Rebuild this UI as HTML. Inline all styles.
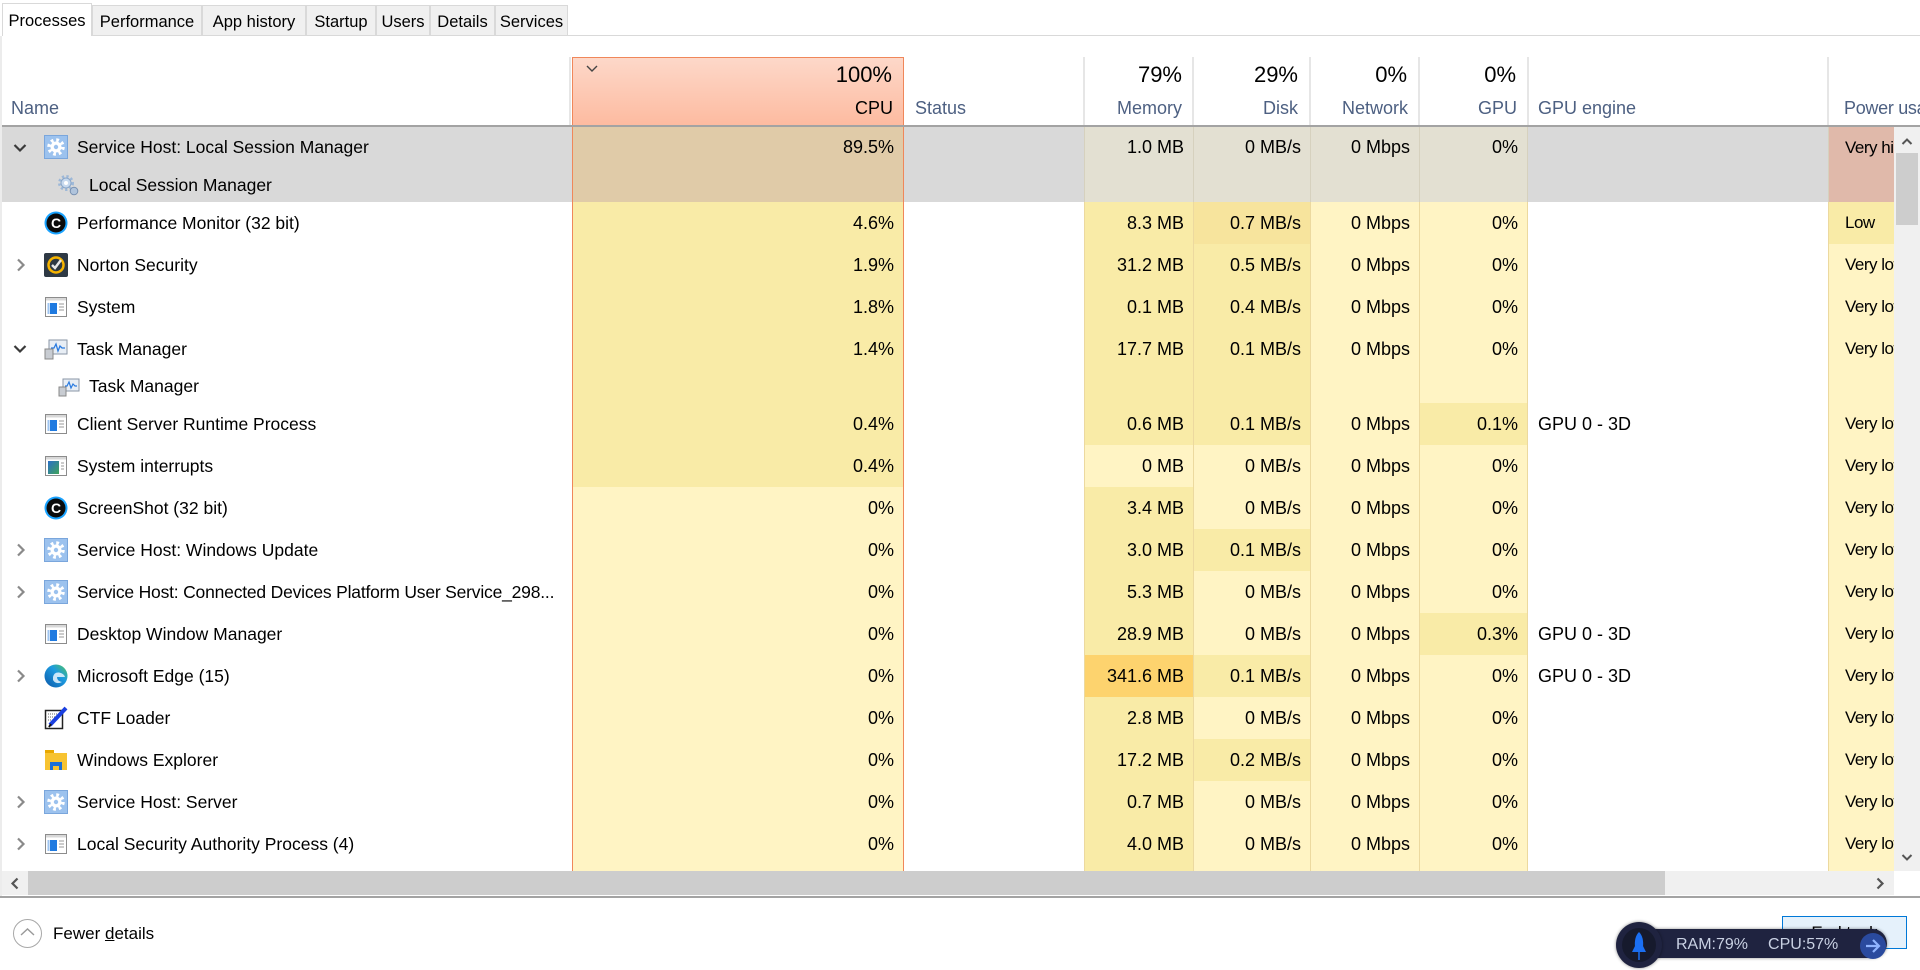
<!DOCTYPE html>
<html><head><meta charset="utf-8"><style>
*{box-sizing:border-box;margin:0;padding:0}
body{width:1920px;height:970px;overflow:hidden;background:#fff;font-family:"Liberation Sans",Arial,sans-serif;color:#000;position:relative}
.a{position:absolute}
.tab{position:absolute;top:5px;height:30px;background:#f0f0f0;border:1px solid #d9d9d9;border-bottom:none;font-size:16.5px;line-height:32px;text-align:center;color:#000}
.hl{position:absolute;font-size:18px;color:#4d6082;line-height:24px;top:96px;white-space:nowrap}
.hp{position:absolute;font-size:22px;color:#000;line-height:28px;top:61px;text-align:right}
.hs{position:absolute;top:57px;height:68px;width:2px;background:#e6e6e6}
.row{position:absolute;left:2px;width:1892px}
.c{position:absolute;top:0;height:100%;text-align:right;padding-right:9px;font-size:18px;white-space:nowrap;overflow:hidden}
.nm{left:0;width:570px;text-align:left;padding:0;font-size:17.5px;overflow:visible}
.nm .t{position:absolute;left:75px;white-space:nowrap}
.nm .tc{position:absolute;left:87px;white-space:nowrap}
.nm svg{position:absolute}
.cpu{left:570px;width:332px;border-left:1px solid #f0875a;border-right:1px solid #f0875a}
.mem{left:1082px;width:109px;border-left:1px solid #ecd99f}
.dsk{left:1191px;width:117px;border-left:1px solid #ecd99f}
.net{left:1308px;width:109px;border-left:1px solid #ecd99f}
.gpu{left:1417px;width:109px;border-left:1px solid #ecd99f;border-right:1px solid #ecd99f}
.eng{left:1526px;width:300px;text-align:left;padding-left:10px}
.pow{left:1826px;width:66px;border-left:1px solid #ecd99f;text-align:left;padding-left:16px;padding-right:0;font-size:17px;letter-spacing:-0.5px}
.L{background:#fff4c4}.M{background:#f9eba7}.M2{background:#f7e49d}.D{background:#fdd36e}
.sel{background:#d9d9d9}
.S1{background:#e0cba8}.S2{background:#e3e0d2}.S3{background:#e0b9aa}
.sel .mem,.sel .dsk,.sel .net,.sel .gpu,.sel .pow{border-color:#d6d1be}
</style></head><body>

<!-- tabs -->
<div class="a" style="left:92px;top:35px;width:1828px;height:1px;background:#d9d9d9"></div>
<div class="a" style="left:2px;top:3px;width:90px;height:33px;background:#fff;border:1px solid #d9d9d9;border-bottom:none;font-size:16.5px;line-height:34px;text-align:center">Processes</div>
<div class="tab" style="left:92px;width:110px">Performance</div>
<div class="tab" style="left:202px;width:104px">App history</div>
<div class="tab" style="left:306px;width:70px">Startup</div>
<div class="tab" style="left:376px;width:54px">Users</div>
<div class="tab" style="left:430px;width:65px">Details</div>
<div class="tab" style="left:495px;width:73px">Services</div>

<!-- header -->
<div class="hs" style="left:569px"></div>
<div class="a" style="left:572px;top:57px;width:332px;height:70px;background:linear-gradient(#fdd8c9,#fdba9f);border:1px solid #f0875a;border-bottom:none"></div>
<svg class="a" style="left:585px;top:64px" width="14" height="10"><polyline points="2,2 7,7 12,2" fill="none" stroke="#444" stroke-width="1.4"/></svg>
<div class="hp" style="left:700px;width:192px">100%</div>
<div class="hl" style="left:700px;width:193px;text-align:right;color:#000">CPU</div>
<div class="hl" style="left:915px">Status</div>
<div class="hs" style="left:1083px"></div>
<div class="hp" style="left:1090px;width:92px">79%</div>
<div class="hl" style="left:1090px;width:92px;text-align:right">Memory</div>
<div class="hs" style="left:1192px"></div>
<div class="hp" style="left:1200px;width:98px">29%</div>
<div class="hl" style="left:1200px;width:98px;text-align:right">Disk</div>
<div class="hs" style="left:1309px"></div>
<div class="hp" style="left:1315px;width:92px">0%</div>
<div class="hl" style="left:1315px;width:93px;text-align:right">Network</div>
<div class="hs" style="left:1418px"></div>
<div class="hp" style="left:1425px;width:91px">0%</div>
<div class="hl" style="left:1425px;width:92px;text-align:right">GPU</div>
<div class="hs" style="left:1527px"></div>
<div class="hl" style="left:1538px">GPU engine</div>
<div class="hs" style="left:1827px"></div>
<div class="hl" style="left:1844px;letter-spacing:-0.3px">Power usage</div>
<div class="hl" style="left:11px">Name</div>
<div class="a" style="left:0;top:125px;width:1920px;height:2px;background:#a3a3a3"></div>

<!-- rows -->
<div class="row sel" style="top:127px;height:41px;line-height:41px">
 <div class="c nm"><svg style="left:11px;top:16px" width="14" height="10"><polyline points="1.5,2 7,7.5 12.5,2" fill="none" stroke="#3a3a3a" stroke-width="2.2"/></svg><svg style="left:42px;top:8px" width="24" height="24"><rect x="0.5" y="0.5" width="23" height="23" fill="#9cc2ee" stroke="#7aa6dc"/><circle cx="12" cy="12" r="7" fill="none" stroke="#fff" stroke-width="3.5" stroke-dasharray="2.7 2.8"/><circle cx="12" cy="12" r="5.5" fill="#fff"/><circle cx="12" cy="12" r="2.2" fill="#9cc2ee"/></svg><span class="t">Service Host: Local Session Manager</span></div>
 <div class="c cpu S1">89.5%</div><div class="c mem S2">1.0 MB</div><div class="c dsk S2">0 MB/s</div><div class="c net S2">0 Mbps</div><div class="c gpu S2">0%</div><div class="c pow S3">Very high</div>
</div>
<div class="row sel" style="top:168px;height:34px;line-height:34px">
 <div class="c nm"><svg style="left:55px;top:6px" width="22" height="22"><circle cx="9" cy="9" r="6.5" fill="none" stroke="#9db8d8" stroke-width="3" stroke-dasharray="2.2 2.2"/><circle cx="9" cy="9" r="5" fill="#c7d9ee" stroke="#8aa6c8"/><circle cx="9" cy="9" r="2" fill="#fff"/><circle cx="17" cy="17" r="3.8" fill="#b0c4dc" stroke="#7890b0"/></svg><span class="tc">Local Session Manager</span></div>
 <div class="c cpu S1"></div><div class="c mem S2"></div><div class="c dsk S2"></div><div class="c net S2"></div><div class="c gpu S2"></div><div class="c pow S3"></div>
</div>

<div class="row" style="top:202px;height:42px;line-height:42px">
 <div class="c nm"><svg style="left:42px;top:9px" width="24" height="24"><circle cx="12" cy="12" r="11.5" fill="#1aa3ff"/><circle cx="12" cy="12" r="9.5" fill="#0b0b0b"/><text x="12" y="17" font-size="14" font-weight="bold" fill="#fff" text-anchor="middle" font-family="Liberation Sans">C</text></svg><span class="t">Performance Monitor (32 bit)</span></div>
 <div class="c cpu M">4.6%</div><div class="c mem M">8.3 MB</div><div class="c dsk M2">0.7 MB/s</div><div class="c net L">0 Mbps</div><div class="c gpu L">0%</div><div class="c pow M">Low</div>
</div>
<div class="row" style="top:244px;height:42px;line-height:42px">
 <div class="c nm"><svg style="left:14px;top:14px" width="10" height="14"><polyline points="2,1.5 7.5,7 2,12.5" fill="none" stroke="#8a8a8a" stroke-width="2.2"/></svg><svg style="left:42px;top:9px" width="24" height="24"><rect width="24" height="24" rx="2" fill="#2e3944"/><circle cx="12" cy="12" r="7.5" fill="none" stroke="#f6b400" stroke-width="2.5"/><polyline points="8,12 11,15 17,7" fill="none" stroke="#e8e8e8" stroke-width="2.4"/></svg><span class="t">Norton Security</span></div>
 <div class="c cpu M">1.9%</div><div class="c mem M">31.2 MB</div><div class="c dsk M">0.5 MB/s</div><div class="c net L">0 Mbps</div><div class="c gpu L">0%</div><div class="c pow L">Very low</div>
</div>
<div class="row" style="top:286px;height:42px;line-height:42px">
 <div class="c nm"><svg style="left:42px;top:9px" width="24" height="24"><rect x="1.5" y="2.5" width="21" height="19" fill="#fff" stroke="#8c8c8c"/><rect x="2" y="3" width="20" height="2.5" fill="#d8d8d8"/><rect x="3.5" y="8" width="2" height="11" fill="#9ec4f0"/><rect x="6" y="8" width="7" height="11" fill="#1f7ae0"/><path d="M15 9h5M15 12h5M15 15h5" stroke="#9a9a9a"/></svg><span class="t">System</span></div>
 <div class="c cpu M">1.8%</div><div class="c mem M">0.1 MB</div><div class="c dsk M">0.4 MB/s</div><div class="c net L">0 Mbps</div><div class="c gpu L">0%</div><div class="c pow L">Very low</div>
</div>
<div class="row" style="top:328px;height:42px;line-height:42px">
 <div class="c nm"><svg style="left:11px;top:16px" width="14" height="10"><polyline points="1.5,2 7,7.5 12.5,2" fill="none" stroke="#3a3a3a" stroke-width="2.2"/></svg><svg style="left:42px;top:9px" width="24" height="24"><rect x="5" y="3" width="18" height="14" fill="#e8eef5" stroke="#8a96a6"/><polyline points="7,11 10,11 12,7 14,14 16,9 18,11 21,11" stroke="#2a7be0" fill="none" stroke-width="1.3"/><rect x="1" y="12" width="8" height="10" fill="#c8ccd2" stroke="#888"/></svg><span class="t">Task Manager</span></div>
 <div class="c cpu M">1.4%</div><div class="c mem M">17.7 MB</div><div class="c dsk M">0.1 MB/s</div><div class="c net L">0 Mbps</div><div class="c gpu L">0%</div><div class="c pow L">Very low</div>
</div>
<div class="row" style="top:370px;height:33px;line-height:33px">
 <div class="c nm"><svg style="left:56px;top:6px" width="22" height="22"><rect x="5" y="3" width="16" height="12" fill="#e8eef5" stroke="#8a96a6"/><polyline points="7,10 9,10 11,6 13,12 15,8 17,10 19,10" stroke="#2a7be0" fill="none" stroke-width="1.2"/><rect x="1" y="11" width="7" height="9" fill="#c8ccd2" stroke="#888"/></svg><span class="tc">Task Manager</span></div>
 <div class="c cpu M"></div><div class="c mem M"></div><div class="c dsk M"></div><div class="c net L"></div><div class="c gpu L"></div><div class="c pow L"></div>
</div>
<div class="row" style="top:403px;height:42px;line-height:42px">
 <div class="c nm"><svg style="left:42px;top:9px" width="24" height="24"><rect x="1.5" y="2.5" width="21" height="19" fill="#fff" stroke="#8c8c8c"/><rect x="2" y="3" width="20" height="2.5" fill="#d8d8d8"/><rect x="3.5" y="8" width="2" height="11" fill="#9ec4f0"/><rect x="6" y="8" width="7" height="11" fill="#1f7ae0"/><path d="M15 9h5M15 12h5M15 15h5" stroke="#9a9a9a"/></svg><span class="t">Client Server Runtime Process</span></div>
 <div class="c cpu M">0.4%</div><div class="c mem M">0.6 MB</div><div class="c dsk M">0.1 MB/s</div><div class="c net L">0 Mbps</div><div class="c gpu M">0.1%</div><div class="c eng">GPU 0 - 3D</div><div class="c pow L">Very low</div>
</div>
<div class="row" style="top:445px;height:42px;line-height:42px">
 <div class="c nm"><svg style="left:42px;top:9px" width="24" height="24"><defs><linearGradient id="gi" x1="0" y1="0" x2="1" y2="1"><stop offset="0" stop-color="#2b6fc8"/><stop offset="1" stop-color="#3fa35a"/></linearGradient></defs><rect x="1.5" y="2.5" width="21" height="19" fill="#fff" stroke="#8c8c8c"/><rect x="2" y="3" width="20" height="2.5" fill="#d8d8d8"/><rect x="4" y="7" width="11" height="13" fill="url(#gi)"/><path d="M17 9h3M17 12h3M17 15h3" stroke="#9a9a9a"/></svg><span class="t">System interrupts</span></div>
 <div class="c cpu M">0.4%</div><div class="c mem L">0 MB</div><div class="c dsk L">0 MB/s</div><div class="c net L">0 Mbps</div><div class="c gpu L">0%</div><div class="c pow L">Very low</div>
</div>
<div class="row" style="top:487px;height:42px;line-height:42px">
 <div class="c nm"><svg style="left:42px;top:9px" width="24" height="24"><circle cx="12" cy="12" r="11.5" fill="#1aa3ff"/><circle cx="12" cy="12" r="9.5" fill="#0b0b0b"/><text x="12" y="17" font-size="14" font-weight="bold" fill="#fff" text-anchor="middle" font-family="Liberation Sans">C</text></svg><span class="t">ScreenShot (32 bit)</span></div>
 <div class="c cpu L">0%</div><div class="c mem M">3.4 MB</div><div class="c dsk L">0 MB/s</div><div class="c net L">0 Mbps</div><div class="c gpu L">0%</div><div class="c pow L">Very low</div>
</div>
<div class="row" style="top:529px;height:42px;line-height:42px">
 <div class="c nm"><svg style="left:14px;top:14px" width="10" height="14"><polyline points="2,1.5 7.5,7 2,12.5" fill="none" stroke="#8a8a8a" stroke-width="2.2"/></svg><svg style="left:42px;top:9px" width="24" height="24"><rect x="0.5" y="0.5" width="23" height="23" fill="#9cc2ee" stroke="#7aa6dc"/><circle cx="12" cy="12" r="7" fill="none" stroke="#fff" stroke-width="3.5" stroke-dasharray="2.7 2.8"/><circle cx="12" cy="12" r="5.5" fill="#fff"/><circle cx="12" cy="12" r="2.2" fill="#9cc2ee"/></svg><span class="t">Service Host: Windows Update</span></div>
 <div class="c cpu L">0%</div><div class="c mem M">3.0 MB</div><div class="c dsk M">0.1 MB/s</div><div class="c net L">0 Mbps</div><div class="c gpu L">0%</div><div class="c pow L">Very low</div>
</div>
<div class="row" style="top:571px;height:42px;line-height:42px">
 <div class="c nm"><svg style="left:14px;top:14px" width="10" height="14"><polyline points="2,1.5 7.5,7 2,12.5" fill="none" stroke="#8a8a8a" stroke-width="2.2"/></svg><svg style="left:42px;top:9px" width="24" height="24"><rect x="0.5" y="0.5" width="23" height="23" fill="#9cc2ee" stroke="#7aa6dc"/><circle cx="12" cy="12" r="7" fill="none" stroke="#fff" stroke-width="3.5" stroke-dasharray="2.7 2.8"/><circle cx="12" cy="12" r="5.5" fill="#fff"/><circle cx="12" cy="12" r="2.2" fill="#9cc2ee"/></svg><span class="t" style="letter-spacing:-0.2px">Service Host: Connected Devices Platform User Service_298...</span></div>
 <div class="c cpu L">0%</div><div class="c mem M">5.3 MB</div><div class="c dsk L">0 MB/s</div><div class="c net L">0 Mbps</div><div class="c gpu L">0%</div><div class="c pow L">Very low</div>
</div>
<div class="row" style="top:613px;height:42px;line-height:42px">
 <div class="c nm"><svg style="left:42px;top:9px" width="24" height="24"><rect x="1.5" y="2.5" width="21" height="19" fill="#fff" stroke="#8c8c8c"/><rect x="2" y="3" width="20" height="2.5" fill="#d8d8d8"/><rect x="3.5" y="8" width="2" height="11" fill="#9ec4f0"/><rect x="6" y="8" width="7" height="11" fill="#1f7ae0"/><path d="M15 9h5M15 12h5M15 15h5" stroke="#9a9a9a"/></svg><span class="t">Desktop Window Manager</span></div>
 <div class="c cpu L">0%</div><div class="c mem M">28.9 MB</div><div class="c dsk L">0 MB/s</div><div class="c net L">0 Mbps</div><div class="c gpu M">0.3%</div><div class="c eng">GPU 0 - 3D</div><div class="c pow L">Very low</div>
</div>
<div class="row" style="top:655px;height:42px;line-height:42px">
 <div class="c nm"><svg style="left:14px;top:14px" width="10" height="14"><polyline points="2,1.5 7.5,7 2,12.5" fill="none" stroke="#8a8a8a" stroke-width="2.2"/></svg><svg style="left:42px;top:9px" width="24" height="24"><defs><linearGradient id="ge" x1="0" y1="1" x2="1" y2="0"><stop offset="0" stop-color="#0b57a8"/><stop offset="0.6" stop-color="#1d9be0"/><stop offset="1" stop-color="#52c65a"/></linearGradient></defs><circle cx="12" cy="12" r="11.5" fill="url(#ge)"/><path d="M9 13 Q10 8 15 8.5 Q20 9.5 21 13 L13 13 Q13 17 18 18 Q12 21 9 16Z" fill="#eaf6ff" opacity="0.85"/></svg><span class="t">Microsoft Edge (15)</span></div>
 <div class="c cpu L">0%</div><div class="c mem D">341.6 MB</div><div class="c dsk M">0.1 MB/s</div><div class="c net L">0 Mbps</div><div class="c gpu L">0%</div><div class="c eng">GPU 0 - 3D</div><div class="c pow L">Very low</div>
</div>
<div class="row" style="top:697px;height:42px;line-height:42px">
 <div class="c nm"><svg style="left:42px;top:9px" width="24" height="24"><rect x="1.5" y="4.5" width="17" height="18" fill="#fff" stroke="#222" stroke-width="1.5"/><path d="M4 8h10M4 11h8M4 14h6" stroke="#666" stroke-dasharray="1 1"/><line x1="6" y1="19" x2="22" y2="2" stroke="#1a3fe0" stroke-width="4"/><line x1="5" y1="21" x2="7" y2="18" stroke="#111" stroke-width="2"/></svg><span class="t">CTF Loader</span></div>
 <div class="c cpu L">0%</div><div class="c mem M">2.8 MB</div><div class="c dsk L">0 MB/s</div><div class="c net L">0 Mbps</div><div class="c gpu L">0%</div><div class="c pow L">Very low</div>
</div>
<div class="row" style="top:739px;height:42px;line-height:42px">
 <div class="c nm"><svg style="left:42px;top:9px" width="24" height="24"><rect x="1" y="2" width="9" height="4" fill="#e8a800"/><rect x="1" y="5" width="22" height="17" fill="#f7c331"/><rect x="6" y="14" width="12" height="8" fill="#1a6fd8"/><rect x="9" y="18" width="6" height="4" fill="#f7c331"/></svg><span class="t">Windows Explorer</span></div>
 <div class="c cpu L">0%</div><div class="c mem M">17.2 MB</div><div class="c dsk M">0.2 MB/s</div><div class="c net L">0 Mbps</div><div class="c gpu L">0%</div><div class="c pow L">Very low</div>
</div>
<div class="row" style="top:781px;height:42px;line-height:42px">
 <div class="c nm"><svg style="left:14px;top:14px" width="10" height="14"><polyline points="2,1.5 7.5,7 2,12.5" fill="none" stroke="#8a8a8a" stroke-width="2.2"/></svg><svg style="left:42px;top:9px" width="24" height="24"><rect x="0.5" y="0.5" width="23" height="23" fill="#9cc2ee" stroke="#7aa6dc"/><circle cx="12" cy="12" r="7" fill="none" stroke="#fff" stroke-width="3.5" stroke-dasharray="2.7 2.8"/><circle cx="12" cy="12" r="5.5" fill="#fff"/><circle cx="12" cy="12" r="2.2" fill="#9cc2ee"/></svg><span class="t">Service Host: Server</span></div>
 <div class="c cpu L">0%</div><div class="c mem M">0.7 MB</div><div class="c dsk L">0 MB/s</div><div class="c net L">0 Mbps</div><div class="c gpu L">0%</div><div class="c pow L">Very low</div>
</div>
<div class="row" style="top:823px;height:42px;line-height:42px">
 <div class="c nm"><svg style="left:14px;top:14px" width="10" height="14"><polyline points="2,1.5 7.5,7 2,12.5" fill="none" stroke="#8a8a8a" stroke-width="2.2"/></svg><svg style="left:42px;top:9px" width="24" height="24"><rect x="1.5" y="2.5" width="21" height="19" fill="#fff" stroke="#8c8c8c"/><rect x="2" y="3" width="20" height="2.5" fill="#d8d8d8"/><rect x="3.5" y="8" width="2" height="11" fill="#9ec4f0"/><rect x="6" y="8" width="7" height="11" fill="#1f7ae0"/><path d="M15 9h5M15 12h5M15 15h5" stroke="#9a9a9a"/></svg><span class="t">Local Security Authority Process (4)</span></div>
 <div class="c cpu L">0%</div><div class="c mem M">4.0 MB</div><div class="c dsk L">0 MB/s</div><div class="c net L">0 Mbps</div><div class="c gpu L">0%</div><div class="c pow L">Very low</div>
</div>
<div class="row" style="top:865px;height:6px">
 <div class="c cpu L"></div><div class="c mem M"></div><div class="c dsk L"></div><div class="c net L"></div><div class="c gpu L"></div><div class="c pow L"></div>
</div>

<!-- left strip -->
<div class="a" style="left:0;top:36px;width:2px;height:861px;background:#ececec"></div>

<!-- vertical scrollbar -->
<div class="a" style="left:1894px;top:127px;width:26px;height:744px;background:#f0f0f0"></div>
<svg class="a" style="left:1901px;top:137px" width="12" height="9"><polyline points="1.5,7 6,2.5 10.5,7" fill="none" stroke="#555" stroke-width="2"/></svg>
<div class="a" style="left:1896px;top:153px;width:22px;height:72px;background:#cdcdcd"></div>
<svg class="a" style="left:1901px;top:853px" width="12" height="9"><polyline points="1.5,2 6,6.5 10.5,2" fill="none" stroke="#555" stroke-width="2"/></svg>

<!-- horizontal scrollbar -->
<div class="a" style="left:2px;top:871px;width:1892px;height:24px;background:#f0f0f0"></div>
<div class="a" style="left:28px;top:871px;width:1637px;height:24px;background:#cdcdcd"></div>
<svg class="a" style="left:10px;top:877px" width="10" height="13"><polyline points="7.5,1.5 2.5,6.5 7.5,11.5" fill="none" stroke="#555" stroke-width="2.2"/></svg>
<svg class="a" style="left:1875px;top:877px" width="10" height="13"><polyline points="2.5,1.5 7.5,6.5 2.5,11.5" fill="none" stroke="#555" stroke-width="2.2"/></svg>
<div class="a" style="left:0;top:896px;width:1920px;height:2px;background:#a3a3a3"></div>

<!-- footer -->
<div class="a" style="left:13px;top:919px;width:29px;height:29px;border:1px solid #a8a8a8;border-radius:50%"></div>
<svg class="a" style="left:19px;top:927px" width="17" height="10"><polyline points="2,8 8.5,2 15,8" fill="none" stroke="#999" stroke-width="1.4"/></svg>
<div class="a" style="left:53px;top:922px;font-size:17px;line-height:24px">Fewer <u>d</u>etails</div>

<div class="a" style="left:1782px;top:916px;width:125px;height:33px;border:1px solid #0078d7;background:#e5f1fb;font-size:17px;line-height:31px;text-align:center">End task</div>

<!-- overlay widget -->
<div class="a" style="left:1628px;top:929px;width:259px;height:29px;border-radius:15px;background:#1f2340;box-shadow:0 0 3px rgba(0,0,0,.45)"></div>
<div class="a" style="left:1616px;top:922px;width:46px;height:46px;border-radius:50%;background:#1f2340;box-shadow:0 0 3px rgba(0,0,0,.45)"></div>
<div class="a" style="left:1622px;top:928px;width:34px;height:34px;border-radius:50%;background:#161a2d"></div>
<svg class="a" style="left:1630px;top:931px" width="18" height="30"><path d="M9 1 Q14 6 13 16 L13 21 L5 21 L5 16 Q4 6 9 1Z" fill="#1b6ff2"/><path d="M5 15 L2 21 L5 21Z M13 15 L16 21 L13 21Z" fill="#1b6ff2"/><line x1="9" y1="21" x2="9" y2="29" stroke="#1b6ff2" stroke-width="1.5"/></svg>
<div class="a" style="left:1676px;top:932px;font-size:16px;line-height:26px;color:#c9d1e3;white-space:nowrap">RAM:79%<span style="display:inline-block;width:20px"></span>CPU:57%</div>
<div class="a" style="left:1860px;top:933px;width:26px;height:26px;border-radius:50%;background:#2a4a9e"></div>
<svg class="a" style="left:1864px;top:938px" width="18" height="16"><path d="M2 8 H15 M9 2 L15 8 L9 14" fill="none" stroke="#8fb3ff" stroke-width="2.2"/></svg>

</body></html>
